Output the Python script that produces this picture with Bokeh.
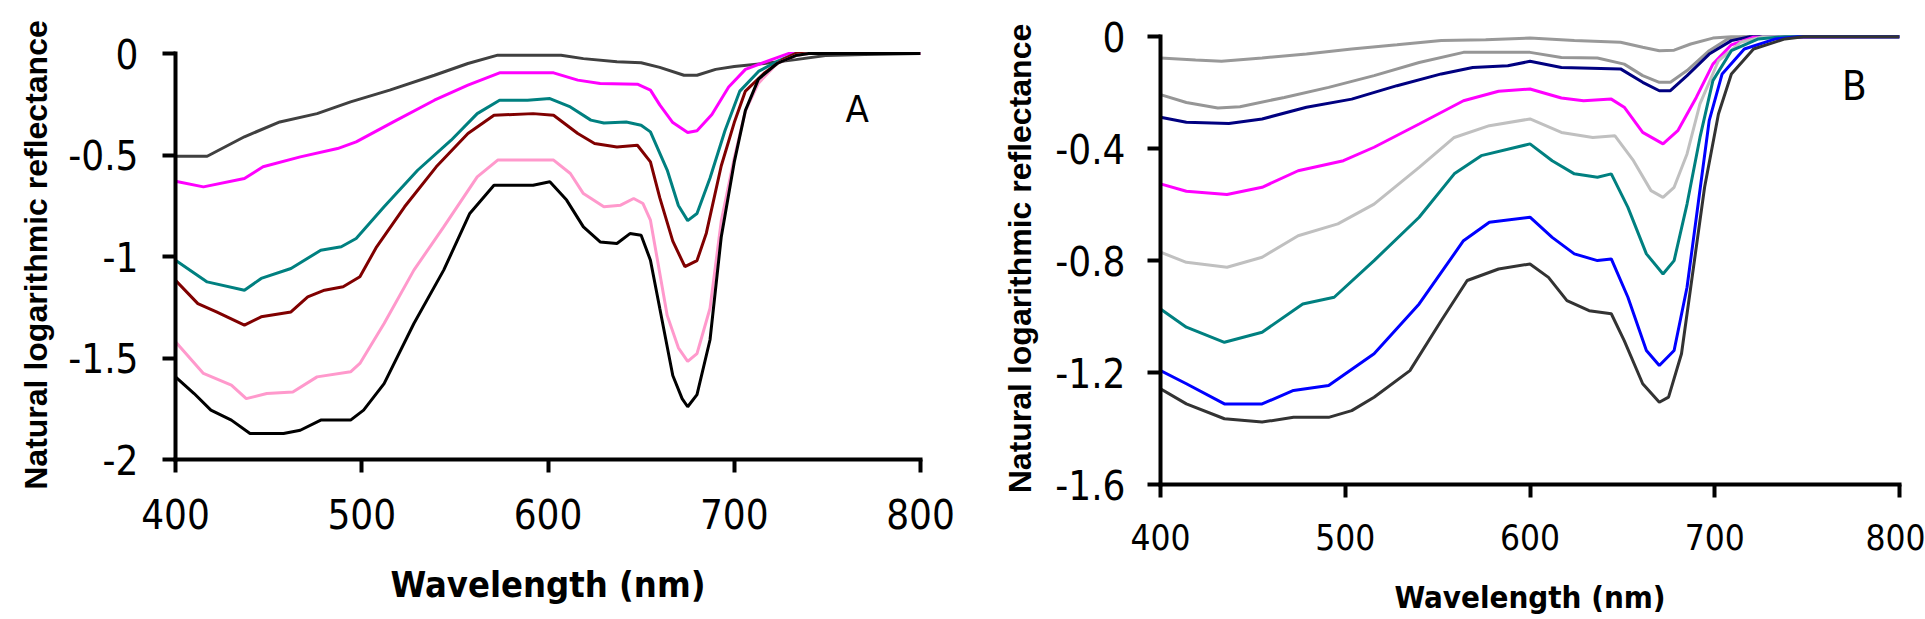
from bokeh.plotting import figure
from bokeh.models import Range1d, FixedTicker, Label
from bokeh.embed import file_html
from bokeh.resources import INLINE

# ---------------- Panel A: spectra (wavelength nm, ln reflectance) ----------------
a_dark_nm = [400, 417, 437, 456, 476, 494, 515, 539, 557, 573, 607, 619, 637, 650, 660, 673, 680, 690, 700, 716, 733, 749, 770, 800]
a_dark_val = [-0.506, -0.506, -0.41, -0.337, -0.296, -0.238, -0.18, -0.107, -0.049, -0.008, -0.008, -0.025, -0.041, -0.045, -0.068, -0.107, -0.107, -0.078, -0.064, -0.049, -0.03, -0.01, -0.005, 0.0]

a_magenta_nm = [400, 415, 437, 447, 467, 487, 497, 517, 539, 557, 574, 603, 616, 628, 648, 655, 660, 667, 675, 680, 688, 697, 706, 720, 729, 800]
a_magenta_val = [-0.629, -0.657, -0.616, -0.558, -0.509, -0.468, -0.435, -0.337, -0.23, -0.156, -0.095, -0.095, -0.131, -0.148, -0.151, -0.18, -0.253, -0.34, -0.389, -0.38, -0.30, -0.165, -0.078, -0.03, 0.0, 0.0]

a_teal_nm = [400, 417, 437, 446, 462, 478, 489, 497, 512, 530, 548, 562, 574, 589, 601, 612, 623, 630, 642, 650, 655, 664, 670, 675, 680, 687, 695, 703, 713, 723, 733, 800]
a_teal_val = [-1.018, -1.125, -1.166, -1.108, -1.059, -0.969, -0.952, -0.911, -0.755, -0.575, -0.427, -0.296, -0.23, -0.23, -0.222, -0.263, -0.328, -0.342, -0.337, -0.353, -0.386, -0.574, -0.749, -0.823, -0.788, -0.613, -0.38, -0.185, -0.088, -0.039, 0.0, 0.0]

a_maroon_nm = [400, 412, 422, 437, 446, 462, 471, 480, 490, 499, 508, 523, 540, 557, 571, 592, 603, 616, 625, 637, 648, 655, 660, 667, 673.5, 680, 685, 693, 700, 706, 716, 726, 733, 800]
a_maroon_val = [-1.117, -1.232, -1.273, -1.338, -1.297, -1.273, -1.199, -1.166, -1.149, -1.1, -0.952, -0.755, -0.558, -0.394, -0.304, -0.296, -0.304, -0.394, -0.443, -0.46, -0.452, -0.534, -0.71, -0.924, -1.05, -1.02, -0.885, -0.554, -0.34, -0.185, -0.097, -0.03, 0.0, 0.0]

a_pink_nm = [400, 415, 430, 438, 449, 463, 476, 494, 499, 512, 528, 544, 562, 573, 603, 612, 619, 630, 639, 646, 651, 655, 664, 670, 675, 680, 687, 693, 700, 706, 713, 723, 733, 740, 800]
a_pink_val = [-1.42, -1.576, -1.634, -1.70, -1.675, -1.667, -1.593, -1.568, -1.527, -1.33, -1.067, -0.854, -0.608, -0.525, -0.525, -0.591, -0.69, -0.755, -0.747, -0.714, -0.739, -0.821, -1.29, -1.45, -1.517, -1.478, -1.255, -0.827, -0.515, -0.282, -0.146, -0.049, -0.01, 0.0, 0.0]

a_black_nm = [400, 410, 419, 430, 440, 458, 467, 478, 494, 501, 512, 528, 544, 558, 571, 592, 601, 610, 619, 628, 637, 644, 650, 655, 660, 667, 672, 675, 680, 687, 693, 700, 706, 713, 723, 733, 740, 800]
a_black_val = [-1.593, -1.675, -1.757, -1.806, -1.872, -1.872, -1.856, -1.806, -1.806, -1.757, -1.626, -1.33, -1.067, -0.788, -0.649, -0.649, -0.632, -0.722, -0.854, -0.928, -0.936, -0.887, -0.895, -1.018, -1.255, -1.586, -1.70, -1.74, -1.68, -1.41, -0.905, -0.535, -0.28, -0.126, -0.049, -0.01, 0.0, 0.0]

# ---------------- Panel B ----------------
b_gray1_nm = [400, 419, 433, 455, 479, 503.5, 528, 552, 576, 600, 624, 649, 661, 670, 678, 687, 699, 709, 800]
b_gray1_val = [-0.076, -0.083, -0.088, -0.076, -0.062, -0.044, -0.029, -0.014, -0.011, -0.005, -0.014, -0.02, -0.038, -0.05, -0.048, -0.026, -0.005, 0.0, 0.0]

b_gray2_nm = [400, 414, 431, 443, 467, 491, 515.6, 540, 564, 600, 617, 636.5, 651, 661, 670, 676, 685, 697, 707, 716, 800]
b_gray2_val = [-0.207, -0.235, -0.255, -0.25, -0.217, -0.181, -0.139, -0.092, -0.056, -0.056, -0.074, -0.076, -0.098, -0.139, -0.163, -0.163, -0.121, -0.05, -0.008, 0.0, 0.0]

b_navy_nm = [400, 414, 437, 455, 479, 503.5, 528, 552, 569, 588, 600, 617, 649, 661, 670, 676, 685, 697, 709, 719, 800]
b_navy_val = [-0.288, -0.306, -0.31, -0.294, -0.252, -0.223, -0.175, -0.133, -0.11, -0.104, -0.088, -0.11, -0.115, -0.163, -0.193, -0.193, -0.139, -0.062, -0.014, 0.0, 0.0]

b_magenta_nm = [400, 414, 436, 455, 474.5, 499, 515.6, 540, 564, 583, 600, 617, 629, 644, 651, 661, 672, 680, 690, 699, 709, 721, 800]
b_magenta_val = [-0.526, -0.552, -0.564, -0.538, -0.479, -0.443, -0.395, -0.312, -0.229, -0.195, -0.187, -0.219, -0.229, -0.223, -0.252, -0.342, -0.383, -0.336, -0.217, -0.098, -0.029, -0.002, 0.0]

b_silver_nm = [400, 414, 436, 455, 474.5, 496, 515.6, 540, 559, 578, 600, 617, 634, 646, 656, 665.5, 672, 678, 685, 692, 702, 714, 726, 800]
b_silver_val = [-0.77, -0.806, -0.824, -0.788, -0.711, -0.669, -0.598, -0.467, -0.36, -0.318, -0.294, -0.342, -0.36, -0.354, -0.443, -0.55, -0.574, -0.538, -0.419, -0.24, -0.086, -0.02, 0.0, 0.0]

b_teal_nm = [400, 414, 434.6, 455, 477, 494, 515.6, 540, 559, 573.6, 600, 612, 624, 636.5, 644, 653, 663, 672, 678, 685, 692, 699, 709, 723.6, 738, 800]
b_teal_val = [-0.973, -1.038, -1.092, -1.056, -0.955, -0.931, -0.8, -0.645, -0.49, -0.425, -0.383, -0.443, -0.49, -0.502, -0.49, -0.61, -0.776, -0.848, -0.8, -0.598, -0.36, -0.157, -0.05, -0.008, 0.0, 0.0]

b_blue_nm = [400, 414, 434.6, 455, 472, 491, 515.6, 540, 564, 578, 600, 612, 624, 636.5, 644, 653, 663, 670, 678, 685, 691, 697, 704, 716, 733, 745, 800]
b_blue_val = [-1.193, -1.24, -1.312, -1.312, -1.264, -1.246, -1.133, -0.955, -0.729, -0.663, -0.645, -0.717, -0.776, -0.8, -0.794, -0.931, -1.121, -1.175, -1.121, -0.895, -0.598, -0.30, -0.133, -0.044, -0.008, 0.0, 0.0]

b_dark_nm = [400, 414, 434.6, 455, 472, 491, 503.5, 515.6, 535, 552, 566, 583, 600, 610, 620, 632, 644, 651, 661, 670, 675, 682, 687, 694.5, 702, 709, 721, 738, 748, 800]
b_dark_val = [-1.258, -1.312, -1.365, -1.377, -1.36, -1.36, -1.336, -1.288, -1.193, -1.014, -0.871, -0.83, -0.812, -0.86, -0.943, -0.979, -0.99, -1.086, -1.24, -1.306, -1.288, -1.133, -0.895, -0.538, -0.276, -0.133, -0.044, -0.008, 0.0, 0.0]

x_ticks = [400, 500, 600, 700, 800]
a_y_ticks = [-2, -1.5, -1, -0.5, 0]
a_y_labels = ["-2", "-1.5", "-1", "-0.5", "0"]
b_y_ticks = [-1.6, -1.2, -0.8, -0.4, 0]
b_y_labels = ["-1.6", "-1.2", "-0.8", "-0.4", "0"]

x_title = "Wavelength (nm)"
y_title = "Natural logarithmic reflectance"

a_series = [
    (a_dark_nm, a_dark_val, "#404040"),
    (a_magenta_nm, a_magenta_val, "#ff00ff"),
    (a_teal_nm, a_teal_val, "#008080"),
    (a_maroon_nm, a_maroon_val, "#800000"),
    (a_pink_nm, a_pink_val, "#ff99cc"),
    (a_black_nm, a_black_val, "#000000"),
]
b_series = [
    (b_gray1_nm, b_gray1_val, "#999999"),
    (b_gray2_nm, b_gray2_val, "#969696"),
    (b_navy_nm, b_navy_val, "#000080"),
    (b_magenta_nm, b_magenta_val, "#ff00ff"),
    (b_silver_nm, b_silver_val, "#c0c0c0"),
    (b_teal_nm, b_teal_val, "#008080"),
    (b_blue_nm, b_blue_val, "#0000ff"),
    (b_dark_nm, b_dark_val, "#333333"),
]

FONT = "DejaVu Sans Condensed"


def style_axes(p, y_ticks, y_labels, xtick_size, ytick_size, x_standoff, y_standoff,
               xlab_size, xlab_standoff, ylab_standoff):
    p.xaxis.ticker = FixedTicker(ticks=x_ticks)
    p.yaxis.ticker = FixedTicker(ticks=y_ticks)
    p.yaxis.major_label_overrides = {t: s for t, s in zip(y_ticks, y_labels)}
    p.xaxis.major_label_overrides = {t: str(t) for t in x_ticks}
    p.xaxis.bounds = (400, 800)
    p.yaxis.bounds = (y_ticks[0], 0)
    for ax in (p.xaxis[0], p.yaxis[0]):
        ax.axis_line_width = 4
        ax.axis_line_color = "black"
        ax.axis_line_cap = "square"
        ax.major_tick_line_width = 4
        ax.major_tick_line_color = "black"
        ax.major_tick_out = 13
        ax.major_tick_in = 0
        ax.minor_tick_line_color = None
        ax.major_label_text_font = FONT
        ax.major_label_text_color = "black"
        ax.axis_label_text_color = "black"
        ax.axis_label_text_font_style = "bold"
    p.xaxis.major_label_text_font_size = f"{xtick_size}px"
    p.yaxis.major_label_text_font_size = f"{ytick_size}px"
    p.xaxis.major_label_standoff = x_standoff
    p.yaxis.major_label_standoff = y_standoff
    p.xaxis.axis_label = x_title
    p.xaxis.axis_label_text_font = FONT
    p.xaxis.axis_label_text_font_size = f"{xlab_size}px"
    p.xaxis.axis_label_standoff = xlab_standoff
    p.yaxis.axis_label = y_title
    p.yaxis.axis_label_text_font = "Liberation Sans"
    p.yaxis.axis_label_text_font_size = "32px"
    p.yaxis.axis_label_standoff = ylab_standoff
    p.xgrid.grid_line_color = None
    p.ygrid.grid_line_color = None
    p.outline_line_color = None


def add_text(p, x, y, text, size):
    p.add_layout(Label(x=x, y=y, text=text, text_align="center", text_baseline="middle",
                       text_font=FONT, text_font_size=f"{size}px", text_color="black"))


# Panel A
pa = figure(width=960, height=619, output_backend="svg", toolbar_location=None,
            x_range=Range1d(400, 800), y_range=Range1d(-2, 0.015),
            min_border_left=175, min_border_right=40, min_border_top=50, min_border_bottom=160)
for xs, ys, c in a_series:
    pa.line(xs, ys, line_color=c, line_width=3)
style_axes(pa, a_y_ticks, a_y_labels, 40, 40, 26, 24, 36, 32, 11)
add_text(pa, 766, -0.273, "A", 38)

# Panel B
pb = figure(width=965, height=619, output_backend="svg", toolbar_location=None,
            x_range=Range1d(400, 800), y_range=Range1d(-1.6, 0.015),
            min_border_left=200, min_border_right=26, min_border_top=32, min_border_bottom=135)
for xs, ys, c in b_series:
    pb.line(xs, ys, line_color=c, line_width=3)
style_axes(pb, b_y_ticks, b_y_labels, 35, 40, 26, 22, 31, 26, 14)
add_text(pb, 775.5, -0.175, "B", 40)

# The two panels are separate roots placed side by side, each keeping its own frame geometry.
html = file_html([pa, pb], INLINE)
html = html.replace(
    "</head>",
    "<style>body{margin:0;display:flex;flex-direction:row;align-items:flex-start;}</style></head>",
    1,
)

with open("out.html", "w") as f:
    f.write(html)
